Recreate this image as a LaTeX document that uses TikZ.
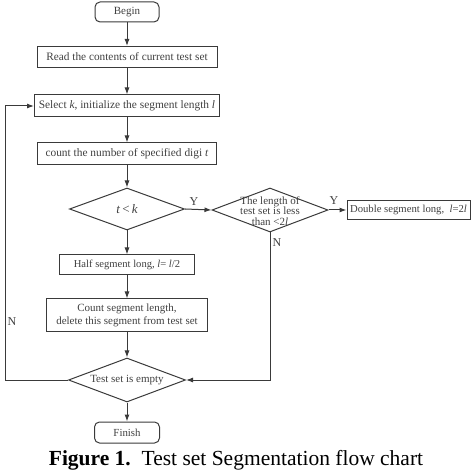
\documentclass[tikz,border=0pt]{standalone}
\usepackage{fontspec}
\setmainfont{Liberation Serif}
\usetikzlibrary{shapes.geometric,arrows.meta}
\definecolor{ln}{HTML}{3A3A3A}
\definecolor{tx}{HTML}{404040}
\newcommand{\fs}[1]{\fontsize{#1}{#1}\selectfont}
\tikzset{
  box/.style={draw=ln, line width=1pt, rectangle, inner sep=0pt, text=tx, align=center},
  term/.style={box, rounded corners=5pt},
  dia/.style={draw=ln, line width=1pt, diamond, inner sep=0pt},
  dtext/.style={text=tx, align=center},
  lab/.style={font=\fs{12}, text=tx},
  arr/.style={draw=ln, line width=1pt, -{Latex[length=7pt,width=5pt]}},
  ln/.style={draw=ln, line width=1pt}
}
\begin{document}
\begin{tikzpicture}[x=1pt,y=-1pt]
\useasboundingbox (0,0) rectangle (474,470);
\node[term, minimum width=64pt, minimum height=20pt, font=\fs{11}] (begin) at (127,12) {Begin};
\node[box, minimum width=180pt, minimum height=21pt, font=\fs{11.3}] (read) at (127,57) {Read the contents of current test set};
\node[box, minimum width=185pt, minimum height=22pt, font=\fs{11.4}] (select) at (127,106) {Select \textit{k}, initialize the segment length \textit{l}};
\node[box, minimum width=179pt, minimum height=22pt, font=\fs{11.4}] (count) at (127,154) {count the number of specified digi \textit{t}};
\node[dia, minimum width=115pt, minimum height=42pt] (d1) at (127,209) {};
\node[dtext, font=\fs{13}] at (d1) {\textit{t}\,<\,\textit{k}};
\node[dia, minimum width=116pt, minimum height=44pt] (d2) at (270,210) {};
\node[dtext, font=\fontsize{11}{10.5}\selectfont] at (270,211) {The length of\\test set is less\\than <2\textit{l}};
\node[box, minimum width=123pt, minimum height=19pt, font=\fs{10.7}] (double) at (408.5,210) {Double segment long,\enspace\textit{l}=2\textit{l}};
\node[box, minimum width=135pt, minimum height=20pt, font=\fs{10.6}] (half) at (127,265) {Half segment long, \textit{l}= \textit{l}/2};
\node[box, minimum width=161pt, minimum height=33pt, font=\fontsize{11}{13}\selectfont] (cseg) at (127,315.5) {Count segment length,\\delete this segment from test set};
\node[dia, minimum width=117pt, minimum height=44pt] (d3) at (127,380) {};
\node[dtext, font=\fs{11}] at (d3) {Test set is empty};
\node[term, minimum width=65pt, minimum height=21pt, font=\fs{10.8}] (finish) at (127,432.5) {Finish};
\coordinate (lb) at (5,380);
\coordinate (lt) at (5,106);
\coordinate (rb) at (270,380);
\draw[arr] (begin) -- (read);
\draw[arr] (read) -- (select);
\draw[arr] (select) -- (count);
\draw[arr] (count) -- (d1);
\draw[arr] (d1) -- (half);
\draw[arr] (half) -- (cseg);
\draw[arr] (cseg) -- (d3);
\draw[arr] (d3) -- (finish);
\draw[arr] (d1.east) -- (d2.west);
\draw[arr] (d2.east) -- (double.west);
\draw[arr] (d2.south) -- (rb) -- (d3.east);
\draw[arr] (d3.west) -- (lb) -- (lt) -- (select.west);
\node[lab] (y1) at (194,202) {Y};
\node[lab] (y2) at (334,201) {Y};
\node[lab] (n1) at (277,243) {N};
\node[lab] (n2) at (12,322) {N};
\node[font=\fs{21.5}, anchor=base] (cap) at (236,465) {\textbf{Figure 1.}\ \ Test set Segmentation flow chart};
\end{tikzpicture}
\end{document}
